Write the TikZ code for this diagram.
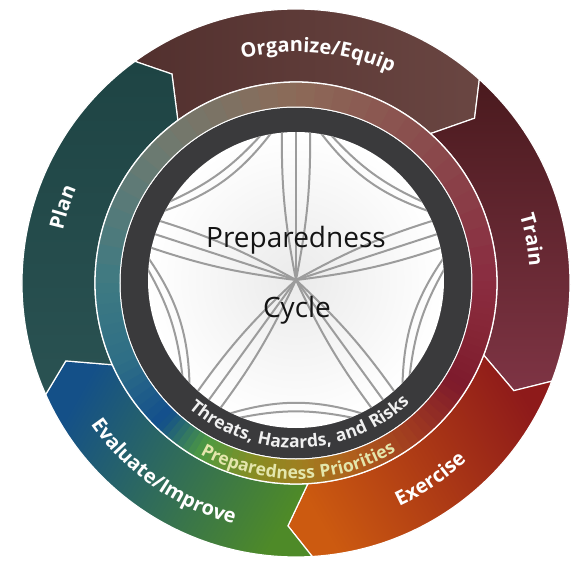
\documentclass[tikz,border=0pt]{standalone}
\usepackage{fontspec}
\setmainfont{Open Sans}
\newfontfamily\arcsans{Open Sans}[LetterSpace=5]
\usetikzlibrary{decorations.text}

% colours of the outer bands (two ends of each gradient)
\definecolor{orgL}{HTML}{52302E}
\definecolor{orgR}{HTML}{6A4642}
\definecolor{trainT}{HTML}{4A1A1E}
\definecolor{trainB}{HTML}{7E3444}
\definecolor{exerT}{HTML}{8E1A1A}
\definecolor{exerB}{HTML}{CC5A10}
\definecolor{evalT}{HTML}{145088}
\definecolor{evalB}{HTML}{4E8A28}
\definecolor{planT}{HTML}{1E4444}
\definecolor{planB}{HTML}{2A5252}
% stops of the middle ring
\definecolor{m0}{HTML}{8A2C40}
\definecolor{m45}{HTML}{8A4A4C}
\definecolor{m90}{HTML}{8C6A58}
\definecolor{m135}{HTML}{6E7A70}
\definecolor{m180}{HTML}{3E7A82}
\definecolor{m205}{HTML}{2E6E86}
\definecolor{m226}{HTML}{124E8C}
\definecolor{m241}{HTML}{4E9A40}
\definecolor{m258}{HTML}{8A8C22}
\definecolor{m272}{HTML}{A07E20}
\definecolor{m287}{HTML}{B0601C}
\definecolor{m308}{HTML}{A03A20}
\definecolor{m328}{HTML}{7E1A2C}
\definecolor{m345}{HTML}{862636}
\definecolor{darkring}{HTML}{3A3A3C}
\definecolor{patgray}{HTML}{9C9C9C}
\definecolor{prioText}{HTML}{E4E6AC}

\newcommand{\lblfont}{\arcsans\bfseries\fontsize{20}{20}\selectfont}
\newcommand{\ringfont}{\arcsans\bfseries\fontsize{17.5}{17.5}\selectfont}

\begin{document}
\begin{tikzpicture}[x=1pt,y=1pt,
  band/.style={draw=white, line width=1.2pt},
  patline/.style={draw=patgray, line width=2pt},
  midtext/.style={font=\fontsize{28}{28}\selectfont, text=black!92, inner sep=0pt},
  bandlabel/.style={decorate, decoration={text along path, text align=center,
      text color=white, text={|\lblfont|#1}}},
  ringlabel/.style={decorate, decoration={text along path, text align=center,
      text color=white!94!black, text={|\ringfont|#1}}},
  prioritylabel/.style={decorate, decoration={text along path, text align=center,
      text color=prioText, text={|\ringfont|#1}}}]
\useasboundingbox (-296,-288) rectangle (291,283);

%Shape: outer bands with arrow ends
\foreach \e/\s/\ca/\cb/\ang in {48/126/orgL/orgR/90, -21/48/trainT/trainB/0,
    -86.6/-21/exerT/exerB/-60, -156/-86.6/evalT/evalB/60, 126/204/planT/planB/0}
  \shade[band, top color=\ca, bottom color=\cb, shading angle=\ang]
    (\s:274) arc[start angle=\s, end angle=\e, radius=274] -- (\e-5.3:243) -- (\e:201)
    arc[start angle=\e, end angle=\s, radius=201] -- (\s-5.3:243) -- cycle;

%Shape: middle ring, colour running round
\foreach \a/\ca/\b/\cb in {0/m0/45/m45, 45/m45/90/m90, 90/m90/135/m135, 135/m135/180/m180,
    180/m180/205/m205, 205/m205/226/m226, 226/m226/241/m241, 241/m241/258/m258,
    258/m258/272/m272, 272/m272/287/m287, 287/m287/308/m308, 308/m308/328/m328,
    328/m328/345/m345, 345/m345/360/m0}
  \foreach \i in {0,...,7} {
    \pgfmathsetmacro{\s}{\a+(\b-\a)*\i/8}
    \pgfmathsetmacro{\f}{\a+(\b-\a)*(\i+1)/8+0.5}
    \pgfmathtruncatemacro{\p}{100*(\i+0.5)/8}
    \fill[fill=\cb!\p!\ca] (\s:176) arc[start angle=\s, end angle=\f, radius=176]
      -- (\f:201) arc[start angle=\f, end angle=\s, radius=201] -- cycle;
  }

%Shape: dark ring and inner disk
\fill[darkring] (0,0) circle[radius=175.5];
\draw[white, line width=1pt] (0,0) circle[radius=176];
\draw[white, line width=1.3pt] (0,0) circle[radius=201];
\shade[inner color=gray!16, outer color=white] (0,3) circle[radius=148];

%Shape: star pattern
\begin{scope}[shift={(0,3)}]
\clip (0,0) circle[radius=148];
\foreach \t in {18,90,162,234,306} {
  \draw[patline] (0,0) -- (\t:160);
  \draw[patline] (0,0) to[bend left=6] (\t+5:160);
  \draw[patline] (0,0) to[bend right=6] (\t-5:160);
  \draw[patline] (\t+12:152) to[bend left=12] (\t+60:152);
  \draw[patline] (\t+7:156) to[bend left=18] (\t+65:156);
}
\end{scope}

% Text Node
\node[midtext, anchor=base] (prep) at (0,36) {Preparedness};
\node[midtext, anchor=base] (cycle) at (1,-34) {Cycle};

% Text along the bands
\path[bandlabel={Organize/Equip}] (129.5:231) arc[start angle=129.5, end angle=39.5, radius=231];
\path[bandlabel=Train] (40.5:234) arc[start angle=40.5, end angle=-19.5, radius=234];
\path[bandlabel=Plan] (192:239) arc[start angle=192, end angle=132, radius=239];
\path[bandlabel=Exercise] (-95.6:246) arc[start angle=-95.6, end angle=-15.6, radius=246];
\path[bandlabel={Evaluate/Improve}] (185:249) arc[start angle=185, end angle=285, radius=249];
\path[ringlabel={Threats, Hazards, and Risks}] (-148.5:165) arc[start angle=-148.5, end angle=-28.5, radius=165];
\path[prioritylabel={Preparedness Priorities}] (-149.3:196) arc[start angle=-149.3, end angle=-29.3, radius=196];

\end{tikzpicture}
\end{document}
